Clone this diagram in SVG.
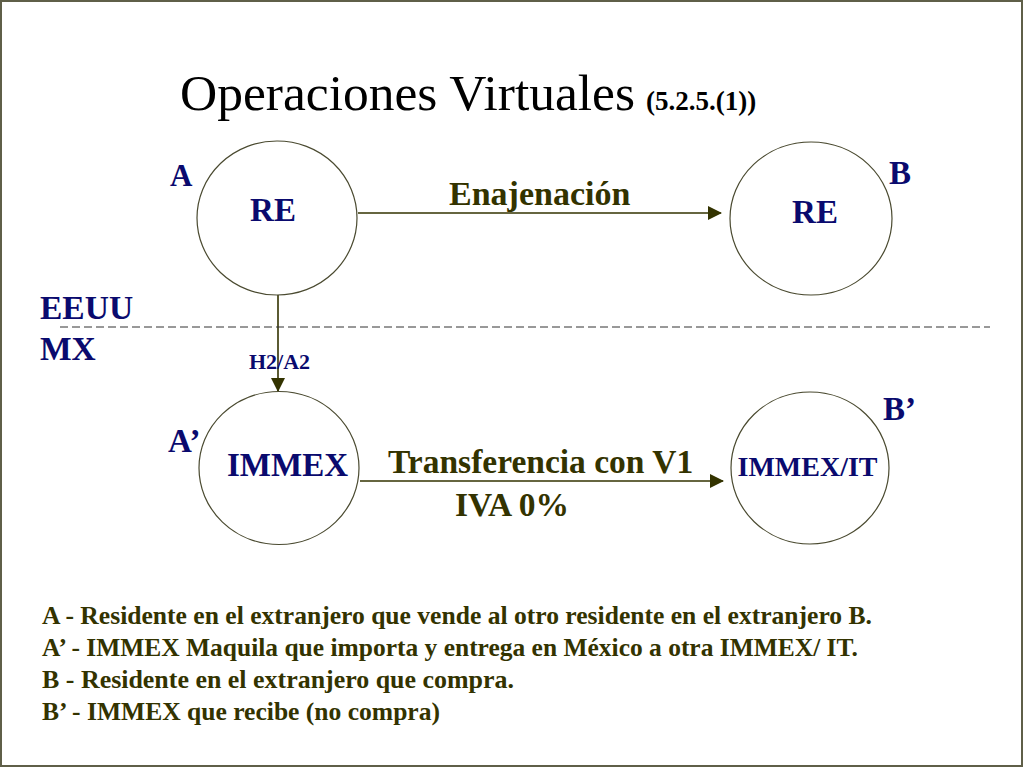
<svg xmlns="http://www.w3.org/2000/svg" width="1024" height="768" viewBox="0 0 1024 768" font-family="Liberation Serif">
<style>
.bg{fill:#ffffff;stroke:#5f5f48;stroke-width:2}
.node{fill:#ffffff;stroke:#4a4a30;stroke-width:1.2}
.navy{font-weight:bold;fill:#0a0a6e}
.olive{font-weight:bold;fill:#333300}
.conn{stroke:#333300;stroke-width:1.6;fill:none}
.dash{stroke:#333333;stroke-width:1;stroke-dasharray:8,4;fill:none}
</style>
<defs>
<marker id="ah2" markerWidth="14" markerHeight="14" refX="13" refY="7" orient="auto" markerUnits="userSpaceOnUse" viewBox="0 0 14 14">
<path d="M0,0 L14,7 L0,14 z" fill="#333300"/>
</marker>
</defs>
<rect class="bg" x="1" y="1" width="1021" height="765"/>
<g id="title" font-family="Liberation Serif">
<text x="180" y="110" font-size="51.5" font-family="Liberation Serif" fill="#000">Operaciones Virtuales</text>
<text x="646" y="110" font-size="27" font-family="Liberation Serif" font-weight="bold" fill="#000">(5.2.5.(1))</text>
</g>
<g id="connectors" font-family="Liberation Serif">
<line class="conn" x1="358" y1="213" x2="721" y2="213" marker-end="url(#ah2)"/>
<line class="conn" x1="278" y1="295" x2="278" y2="391" marker-end="url(#ah2)"/>
<line class="conn" x1="360" y1="481" x2="723" y2="481" marker-end="url(#ah2)"/>
<line class="dash" x1="60" y1="327" x2="990" y2="327"/>
<text class="olive" x="449" y="205" font-size="34" font-family="Liberation Serif">Enajenación</text>
<text class="navy" x="249" y="369" font-size="22" font-family="Liberation Serif">H2/A2</text>
<text class="olive" x="388" y="473" font-size="33.5" font-family="Liberation Serif">Transferencia con V1</text>
<text class="olive" x="455" y="516" font-size="33.5" font-family="Liberation Serif">IVA 0%</text>
</g>
<g id="node-A" font-family="Liberation Serif">
<ellipse class="node" cx="277" cy="218" rx="80" ry="77"/>
<text class="navy" x="273" y="221" font-size="33" text-anchor="middle" font-family="Liberation Serif">RE</text>
<text class="navy" x="170" y="186" font-size="31" font-family="Liberation Serif">A</text>
</g>
<g id="node-B" font-family="Liberation Serif">
<ellipse class="node" cx="811" cy="218.5" rx="81" ry="76.5"/>
<text class="navy" x="815" y="223" font-size="33" text-anchor="middle" font-family="Liberation Serif">RE</text>
<text class="navy" x="889" y="184" font-size="33" font-family="Liberation Serif">B</text>
</g>
<g id="node-A2" font-family="Liberation Serif">
<ellipse class="node" cx="279" cy="468" rx="80" ry="76.5"/>
<text class="navy" x="287.5" y="476" font-size="33" text-anchor="middle" font-family="Liberation Serif">IMMEX</text>
<text class="navy" x="168" y="452" font-size="33" font-family="Liberation Serif">A’</text>
</g>
<g id="node-B2" font-family="Liberation Serif">
<ellipse class="node" cx="810" cy="468" rx="79" ry="76"/>
<text class="navy" x="807.5" y="476" font-size="28" text-anchor="middle" font-family="Liberation Serif">IMMEX/IT</text>
<text class="navy" x="883" y="420" font-size="33" font-family="Liberation Serif">B’</text>
</g>
<g id="regions" font-family="Liberation Serif">
<text class="navy" x="40" y="319" font-size="33.5" font-family="Liberation Serif">EEUU</text>
<text class="navy" x="40" y="360" font-size="33.5" font-family="Liberation Serif">MX</text>
</g>
<g id="legend" font-family="Liberation Serif">
<text class="olive" x="42" y="624" font-size="25" font-family="Liberation Serif" textLength="830" lengthAdjust="spacingAndGlyphs">A - Residente en el extranjero que vende al otro residente en el extranjero B.</text>
<text class="olive" x="42" y="656" font-size="25" font-family="Liberation Serif" textLength="816" lengthAdjust="spacingAndGlyphs">A’ - IMMEX Maquila que importa y entrega en México a otra IMMEX/ IT.</text>
<text class="olive" x="42" y="688" font-size="25" font-family="Liberation Serif" textLength="472" lengthAdjust="spacingAndGlyphs">B -  Residente en el extranjero que compra.</text>
<text class="olive" x="42" y="720" font-size="25" font-family="Liberation Serif" textLength="398" lengthAdjust="spacingAndGlyphs">B’ - IMMEX que recibe (no compra)</text>
</g>
</svg>
